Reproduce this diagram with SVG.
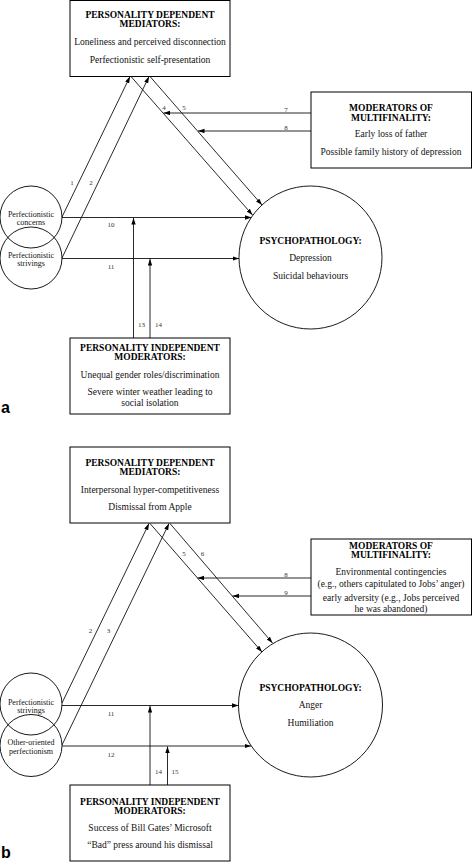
<svg xmlns="http://www.w3.org/2000/svg" width="472" height="862" viewBox="0 0 472 862">
<style>
.bg{fill:#fff}
.box{fill:#fff;stroke:#000;stroke-width:1}
.circ{fill:none;stroke:#000;stroke-width:0.9}
.ln{fill:none;stroke:#111;stroke-width:0.9;marker-end:url(#ah)}
.h{font-family:"Liberation Serif","Times New Roman",serif;font-weight:bold;font-size:9.5px;text-anchor:middle;fill:#000}
.t{font-family:"Liberation Serif","Times New Roman",serif;font-size:9.5px;text-anchor:middle;fill:#111}
.c{font-family:"Liberation Serif","Times New Roman",serif;font-size:8px;text-anchor:middle;fill:#111}
.n{font-family:"Liberation Serif","Times New Roman",serif;font-size:7px;text-anchor:middle;fill:#333}
.lab{font-family:"Liberation Sans",Arial,sans-serif;font-weight:bold;font-size:16px;fill:#000}
</style>
<defs>
<marker id="ah" markerUnits="userSpaceOnUse" markerWidth="7" markerHeight="5" refX="6.5" refY="2.2" orient="auto">
<path d="M0,0 L6.5,2.2 L0,4.4 z" fill="#000"/>
</marker>
</defs>
<rect class="bg" x="0" y="0" width="472" height="862"/>

<!-- ===== Part a ===== -->
<g id="a-connectors">
<path class="ln" d="M62,217 L130,76.5"/>
<path class="ln" d="M62,258 L149,76.5"/>
<path class="ln" d="M131,76.5 L252.5,215"/>
<path class="ln" d="M150,76.5 L262,205"/>
<path class="ln" d="M311,113 L163.5,113"/>
<path class="ln" d="M311,131 L198,131"/>
<path class="ln" d="M62,217.5 L251.5,217.5"/>
<path class="ln" d="M62,258.5 L239,258.5"/>
<path class="ln" d="M133.5,338 L133.5,218"/>
<path class="ln" d="M150,338 L150,259"/>
<text class="n" x="72" y="184.5">1</text>
<text class="n" x="91" y="184.5">2</text>
<text class="n" x="164" y="109.5">4</text>
<text class="n" x="184" y="109.5">5</text>
<text class="n" x="286" y="111.5">7</text>
<text class="n" x="286" y="129.5">8</text>
<text class="n" x="111" y="227">10</text>
<text class="n" x="111" y="268.5">11</text>
<text class="n" x="141.5" y="326.5">13</text>
<text class="n" x="158.5" y="326.5">14</text>
</g>

<g id="a-mediators">
<rect class="box" x="70" y="0.5" width="160" height="76"/>
<text class="h" x="150" y="18">PERSONALITY DEPENDENT</text>
<text class="h" x="150" y="27">MEDIATORS:</text>
<text class="t" x="150" y="44.5">Loneliness and perceived disconnection</text>
<text class="t" x="150" y="62.5">Perfectionistic self-presentation</text>
</g>

<g id="a-multifinality">
<rect class="box" x="311" y="92" width="160.5" height="76"/>
<text class="h" x="391" y="111">MODERATORS OF</text>
<text class="h" x="391" y="121">MULTIFINALITY:</text>
<text class="t" x="391" y="137">Early loss of father</text>
<text class="t" x="391" y="154.5">Possible family history of depression</text>
</g>

<g id="a-concerns">
<circle class="circ" cx="31" cy="217" r="31"/>
<text class="c" x="31" y="217">Perfectionistic</text>
<text class="c" x="31" y="225">concerns</text>
</g>

<g id="a-strivings">
<circle class="circ" cx="31" cy="258" r="31"/>
<text class="c" x="31" y="258">Perfectionistic</text>
<text class="c" x="31" y="266">strivings</text>
</g>

<g id="a-psychopathology">
<circle class="circ" cx="310.5" cy="257.5" r="71.5"/>
<text class="h" x="310.5" y="243.5">PSYCHOPATHOLOGY:</text>
<text class="t" x="310.5" y="261">Depression</text>
<text class="t" x="310.5" y="278.5">Suicidal behaviours</text>
</g>

<g id="a-independent">
<rect class="box" x="70" y="338" width="160" height="76"/>
<text class="h" x="150" y="351">PERSONALITY INDEPENDENT</text>
<text class="h" x="150" y="360">MODERATORS:</text>
<text class="t" x="150" y="377.5">Unequal gender roles/discrimination</text>
<text class="t" x="150" y="395">Severe winter weather leading to</text>
<text class="t" x="150" y="406">social isolation</text>
</g>

<text id="label-a" class="lab" x="1" y="413">a</text>

<!-- ===== Part b ===== -->
<g id="b-connectors">
<path class="ln" d="M62,703 L149,523.5"/>
<path class="ln" d="M62,745 L169,523.5"/>
<path class="ln" d="M150,523.5 L262,652"/>
<path class="ln" d="M170,523.5 L272.5,643"/>
<path class="ln" d="M311,578 L197.5,578"/>
<path class="ln" d="M311,596 L232.5,596"/>
<path class="ln" d="M62,705.5 L238.5,705.5"/>
<path class="ln" d="M62,746 L251,746"/>
<path class="ln" d="M150,785 L150,706"/>
<path class="ln" d="M167.5,785 L167.5,746.5"/>
<text class="n" x="90.5" y="632.5">2</text>
<text class="n" x="108.5" y="632.5">3</text>
<text class="n" x="184" y="555.5">5</text>
<text class="n" x="202.5" y="555.5">6</text>
<text class="n" x="286" y="576.5">8</text>
<text class="n" x="286" y="594.5">9</text>
<text class="n" x="111" y="715.5">11</text>
<text class="n" x="111" y="756.5">12</text>
<text class="n" x="158.5" y="773.5">14</text>
<text class="n" x="175" y="773.5">15</text>
</g>

<g id="b-mediators">
<rect class="box" x="70" y="447" width="160" height="76"/>
<text class="h" x="150" y="466">PERSONALITY DEPENDENT</text>
<text class="h" x="150" y="475">MEDIATORS:</text>
<text class="t" x="150" y="493">Interpersonal hyper-competitiveness</text>
<text class="t" x="150" y="510">Dismissal from Apple</text>
</g>

<g id="b-multifinality">
<rect class="box" x="311" y="539" width="160.5" height="76"/>
<text class="h" x="391" y="549">MODERATORS OF</text>
<text class="h" x="391" y="558">MULTIFINALITY:</text>
<text class="t" x="391" y="575">Environmental contingencies</text>
<text class="t" x="391" y="587">(e.g., others capitulated to Jobs’ anger)</text>
<text class="t" x="391" y="601">early adversity (e.g., Jobs perceived</text>
<text class="t" x="391" y="612">he was abandoned)</text>
</g>

<g id="b-strivings">
<circle class="circ" cx="31" cy="704" r="31"/>
<text class="c" x="31" y="704.5">Perfectionistic</text>
<text class="c" x="31" y="713">strivings</text>
</g>

<g id="b-other-oriented">
<circle class="circ" cx="31" cy="745.5" r="31"/>
<text class="c" x="31" y="744.5">Other-oriented</text>
<text class="c" x="31" y="753.5">perfectionism</text>
</g>

<g id="b-psychopathology">
<circle class="circ" cx="310.5" cy="705" r="72"/>
<text class="h" x="310.5" y="691">PSYCHOPATHOLOGY:</text>
<text class="t" x="310.5" y="708">Anger</text>
<text class="t" x="310.5" y="726">Humiliation</text>
</g>

<g id="b-independent">
<rect class="box" x="70" y="785" width="160" height="76"/>
<text class="h" x="150" y="805">PERSONALITY INDEPENDENT</text>
<text class="h" x="150" y="814">MODERATORS:</text>
<text class="t" x="150" y="831">Success of Bill Gates’ Microsoft</text>
<text class="t" x="150" y="848">“Bad” press around his dismissal</text>
</g>

<text id="label-b" class="lab" x="1" y="858">b</text>
</svg>
